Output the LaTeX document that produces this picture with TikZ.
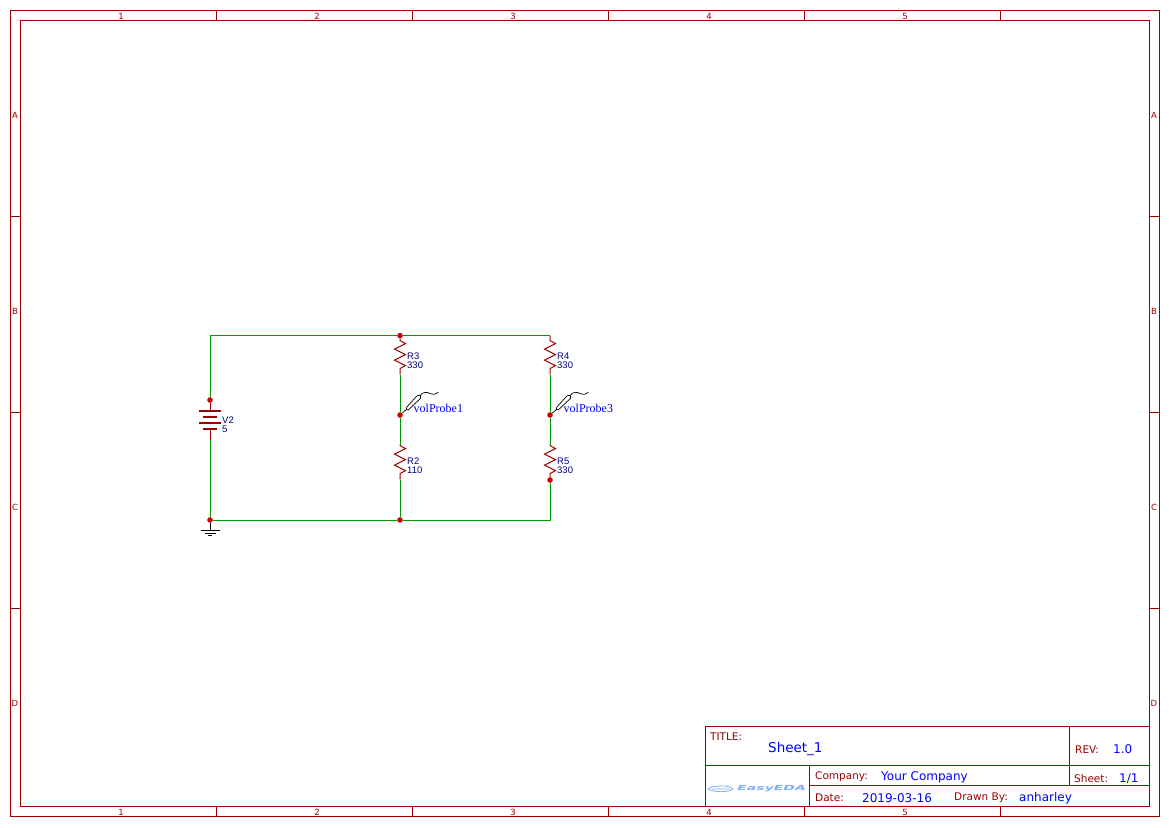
\documentclass[tikz,border=0pt]{standalone}
\usepackage{fontspec}
\setmainfont{DejaVu Sans}
\newfontfamily\probefont{Liberation Serif}
\newfontfamily\partfont{Liberation Sans}
\definecolor{framered}{RGB}{153,0,0}
\definecolor{wiregreen}{RGB}{0,153,0}
\definecolor{partred}{RGB}{160,0,0}
\definecolor{pinred}{RGB}{204,0,0}
\definecolor{labelblue}{RGB}{0,0,132}
\definecolor{valueblue}{RGB}{0,0,255}
\definecolor{logoblue}{RGB}{125,175,250}
\tikzset{
  border/.style={draw=framered,line width=0.9pt},
  wire/.style={draw=wiregreen,line width=1pt},
  lead/.style={draw=partred,line width=1pt},
  pin/.style={circle,fill=pinred,inner sep=0pt,minimum size=5.6pt},
  probepen/.style={draw=black,line width=0.7pt},
  gridlabel/.style={text=framered,font=\fontsize{8.5}{9}\selectfont,inner sep=0pt},
  fieldname/.style={text=framered,font=\fontsize{10.5}{11}\selectfont,inner sep=0pt,anchor=west},
  fieldvalue/.style={text=valueblue,font=\fontsize{12}{13}\selectfont,inner sep=0pt,anchor=west},
  partlabel/.style={text=labelblue,font=\partfont\fontsize{9.5}{10}\selectfont,inner sep=0pt,anchor=west},
  probelabel/.style={text=valueblue,font=\probefont\fontsize{12}{13}\selectfont,inner sep=0pt,anchor=west},
}
\begin{document}
\begin{tikzpicture}[x=1pt,y=-1pt]
  \useasboundingbox (0,0.4) rectangle (1169,827.4);
  % sheet frame
  \draw[border] (10,11) rectangle (1159,817);
  \draw[border] (20,21) rectangle (1149,807);
  \draw[border]
    (216,11) -- (216,21) (412,11) -- (412,21) (608,11) -- (608,21)
    (804,11) -- (804,21) (1000,11) -- (1000,21)
    (216,807) -- (216,817) (412,807) -- (412,817) (608,807) -- (608,817)
    (804,807) -- (804,817) (1000,807) -- (1000,817)
    (10,217) -- (20,217) (10,413) -- (20,413) (10,609) -- (20,609)
    (1149,217) -- (1159,217) (1149,413) -- (1159,413) (1149,609) -- (1159,609);
  \foreach \num/\xpos in {1/121,2/317,3/513,4/709,5/905} {
    \node[gridlabel] (top\num) at (\xpos,16.4) {\num};
    \node[gridlabel] (bot\num) at (\xpos,812.4) {\num};
  }
  \foreach \row/\ypos in {A/115.4,B/311.4,C/507.4,D/703.4} {
    \node[gridlabel] (left\row) at (15,\ypos) {\row};
    \node[gridlabel] (right\row) at (1154,\ypos) {\row};
  }
  % title block
  \draw[border,fill=white] (705,727) rectangle (1149,807);
  \draw[border]
    (705,766) -- (1149,766)
    (809,786) -- (1149,786)
    (809,766) -- (809,807)
    (1069,727) -- (1069,786);
  \node[fieldname] (titlekey) at (710,736.6) {TITLE:};
  \node[fieldvalue,font=\fontsize{13.5}{14}\selectfont] (titleval) at (768,749) {Sheet\_1};
  \node[fieldname] (revkey) at (1075,749.6) {REV:};
  \node[fieldvalue] (revval) at (1113,749.6) {1.0};
  \node[fieldname] (companykey) at (815,777.5) {Company:};
  \node[fieldvalue] (companyval) at (881,777.5) {Your Company};
  \node[fieldname] (sheetkey) at (1074,778.6) {Sheet:};
  \node[fieldvalue] (sheetval) at (1119,778.6) {1/1};
  \node[fieldname] (datekey) at (815,798.6) {Date:};
  \node[fieldvalue] (dateval) at (862,798.6) {2019-03-16};
  \node[fieldname] (drawnkey) at (954,798.6) {Drawn By:};
  \node[fieldvalue] (drawnval) at (1019,798.6) {anharley};
  \node[text=logoblue,font=\fontsize{7}{8}\bfseries\itshape\selectfont,inner sep=0pt,anchor=west,xscale=2] (logotext) at (737,789.4) {EasyEDA};
  \draw[logoblue,line width=0.8pt] (708,789.4) .. controls (712,786) and (716,787) .. (720,786.4) .. controls (726,786) and (730,787) .. (733,789.4) .. controls (728,793) and (714,793) .. (708,789.4) (712,789.4) -- (729,789.4);
  % pins
  \node[pin] (v2top) at (210,400.4) {};
  \node[pin] (gnd) at (210,520.4) {};
  \node[pin] (r3top) at (400,336) {};
  \node[pin] (probe1) at (400,415.4) {};
  \node[pin] (r2bot) at (400,520.4) {};
  \node[pin] (probe3) at (550,415.4) {};
  \node[pin] (r5bot) at (550,480.4) {};
  \coordinate (topleft) at (210,336);
  \coordinate (topright) at (550,336);
  \coordinate (botright) at (550,520.4);
  \coordinate (v2bot) at (210,440);
  \coordinate (r3end) at (400,375);
  \coordinate (r2start) at (400,445);
  \coordinate (r2end) at (400,480);
  \coordinate (r4end) at (550,375);
  \coordinate (r5start) at (550,445);
  % wires
  \draw[wire] (v2top) -- (topleft) -- (r3top) -- (topright);
  \draw[wire] (r3end) -- (probe1) -- (r2start);
  \draw[wire] (r2end) -- (r2bot);
  \draw[wire] (r4end) -- (probe3) -- (r5start);
  \draw[wire] (r5bot) -- (botright) -- (r2bot) -- (gnd) -- (v2bot);
  % resistors
  \draw[lead] (r3top) -- ++(0,5) -- ++(5.5,3) -- ++(-11,5.5) -- ++(11,5.5) -- ++(-11,5.5) -- ++(11,5.5) -- ++(-5.5,3) -- (r3end);
  \draw[lead] (topright) -- ++(0,5) -- ++(5.5,3) -- ++(-11,5.5) -- ++(11,5.5) -- ++(-11,5.5) -- ++(11,5.5) -- ++(-5.5,3) -- (r4end);
  \draw[lead] (r2start) -- ++(0,1) -- ++(5.5,3) -- ++(-11,5.5) -- ++(11,5.5) -- ++(-11,5.5) -- ++(11,5.5) -- ++(-5.5,3) -- (r2end);
  \draw[lead] (r5start) -- ++(0,1) -- ++(5.5,3) -- ++(-11,5.5) -- ++(11,5.5) -- ++(-11,5.5) -- ++(11,5.5) -- ++(-5.5,3) -- (r5bot);
  % battery
  \draw[lead] (v2top) -- (210,411);
  \draw[lead] (210,429) -- (v2bot);
  \draw[framered,line width=1.8pt] (199,411) -- (221,411) (203,417.3) -- (217,417.3) (199,423) -- (221,423) (203,429.3) -- (217,429.3);
  % ground
  \draw[black,line width=0.8pt] (gnd) -- (210,530.4) (201,530.4) -- (220,530.4) (205,533.4) -- (216,533.4) (207.7,536.2) -- (212.3,536.2);
  % probes
  \draw[probepen] (probe1) -- (406.3,410) -- (406.7,407.6) -- (416,397.3) .. controls (418,395) and (421,395) .. (420.7,398.6) -- (408.3,410.3) -- (406.3,410);
  \draw[probepen] (420,396) .. controls (423,392) and (427,392) .. (430,394) .. controls (433,395.5) and (435,395) .. (438.3,392.6);
  \draw[probepen] (probe3) -- (556.3,410) -- (556.7,407.6) -- (566,397.3) .. controls (568,395) and (571,395) .. (570.7,398.6) -- (558.3,410.3) -- (556.3,410);
  \draw[probepen] (570,396) .. controls (573,392) and (577,392) .. (580,394) .. controls (583,395.5) and (585,395) .. (588.3,392.6);
  % labels
  \node[partlabel] (v2name) at (222,421) {V2};
  \node[partlabel] (v2value) at (222,430) {5};
  \node[partlabel] (r3name) at (407,356.4) {R3};
  \node[partlabel] (r3value) at (407,365.4) {330};
  \node[partlabel] (r2name) at (407,461.4) {R2};
  \node[partlabel] (r2value) at (407,470.4) {110};
  \node[partlabel] (r4name) at (557,356.4) {R4};
  \node[partlabel] (r4value) at (557,365.4) {330};
  \node[partlabel] (r5name) at (557,461.4) {R5};
  \node[partlabel] (r5value) at (557,470.4) {330};
  \node[probelabel] (probe1name) at (413.5,408.4) {volProbe1};
  \node[probelabel] (probe3name) at (563.5,408.4) {volProbe3};
\end{tikzpicture}
\end{document}
